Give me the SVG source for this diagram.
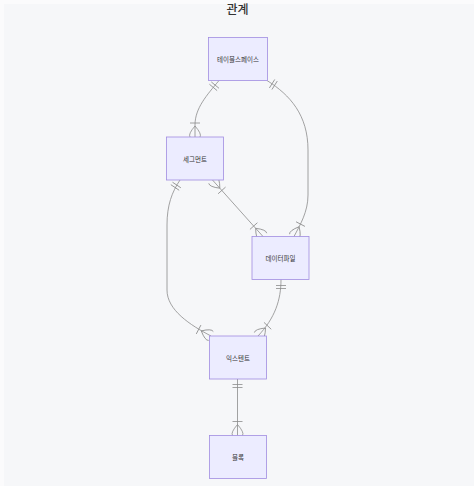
<svg xmlns="http://www.w3.org/2000/svg" width="474" height="486" viewBox="0 0 474 486">
<style>
.node rect{fill:#ECECFF;stroke:#a08ce0;stroke-width:0.8}
.node text{font-family:"Noto Sans CJK KR","Noto Sans",sans-serif;font-size:6.5px;fill:#333;text-anchor:middle;dominant-baseline:central}
.edge{fill:none;stroke:#8c8c8c;stroke-width:0.8}
.mk{fill:none;stroke:#8c8c8c;stroke-width:0.8}
.title{font-family:"Noto Sans CJK KR","Noto Sans",sans-serif;font-size:12px;font-weight:500;fill:#333;text-anchor:middle;dominant-baseline:central}
</style>
<defs>
<marker id="one" markerUnits="userSpaceOnUse" viewBox="-20 -8 24 16" refX="0" refY="0" markerWidth="24" markerHeight="16" orient="auto-start-reverse">
<path class="mk" d="M-6,-5 L-6,5 M-9,-5 L-9,5"/>
</marker>
<marker id="many" markerUnits="userSpaceOnUse" viewBox="-20 -8 24 16" refX="0" refY="0" markerWidth="24" markerHeight="16" orient="auto-start-reverse">
<path class="mk" d="M-14,-5 L-14,5 M-11,0 Q-3,-7 0,-5 M-11,0 Q-3,7 0,5"/>
</marker>
</defs>
<rect x="0" y="0" width="474" height="486" fill="#fbfbfc"/>
<rect x="4" y="4" width="470" height="482" fill="#f6f7f9"/>
<text class="title" x="237.5" y="8.5">관계</text>
<g id="connectors">
<path class="edge" d="M219,80.5 C207,95 195,108 195,125 L195,137" marker-start="url(#one)" marker-end="url(#many)"/>
<path class="edge" d="M267,80.5 C290,95 308,115 308,150 L308,195 C308,212 300,225 294,236.5" marker-start="url(#one)" marker-end="url(#many)"/>
<path class="edge" d="M212.5,180 L263,236.5" marker-start="url(#many)" marker-end="url(#many)"/>
<path class="edge" d="M180,180 C172,192 167,205 167,225 L167,290 C167,310 190,325 211,336" marker-start="url(#one)" marker-end="url(#many)"/>
<path class="edge" d="M281,279.5 C281,300 275,318 258,336" marker-start="url(#one)" marker-end="url(#many)"/>
<path class="edge" d="M237.5,378.5 L237.5,435.5" marker-start="url(#one)" marker-end="url(#many)"/>
</g>
<g id="tablespace" class="node"><rect x="208.5" y="37.5" width="59" height="43"/><text x="238" y="59">테이블스페이스</text></g>
<g id="segment" class="node"><rect x="166.5" y="137" width="57" height="43"/><text x="195" y="158.5">세그먼트</text></g>
<g id="datafile" class="node"><rect x="252" y="236.5" width="57" height="43"/><text x="280.5" y="258">데이터파일</text></g>
<g id="extent" class="node"><rect x="209.5" y="336" width="57" height="43"/><text x="238" y="357.5">익스텐트</text></g>
<g id="block" class="node"><rect x="209.5" y="435.5" width="57" height="43"/><text x="238" y="457">블록</text></g>
</svg>
